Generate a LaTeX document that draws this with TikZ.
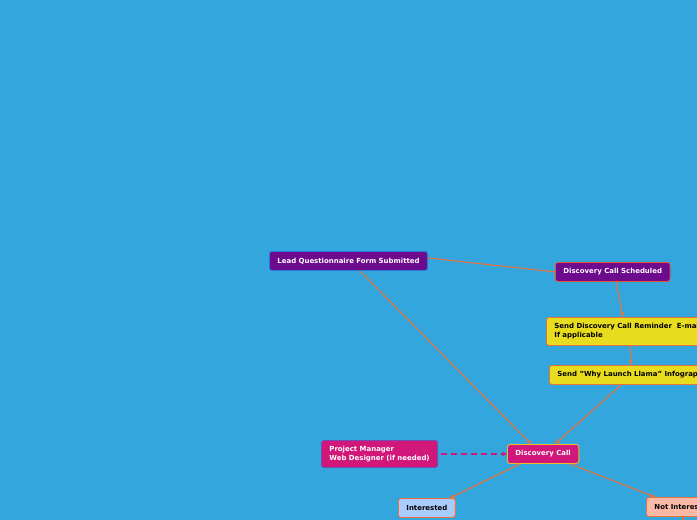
\documentclass[tikz,border=0pt]{standalone}
\usepackage{fontspec}
\setmainfont{DejaVu Sans}
\usetikzlibrary{arrows.meta}
\definecolor{bg}{HTML}{33A6DE}
\definecolor{purp}{HTML}{6E0A8E}
\definecolor{yel}{HTML}{E8DC1E}
\definecolor{mag}{HTML}{D1177A}
\definecolor{lblue}{HTML}{AACCFA}
\definecolor{salm}{HTML}{FBB9A6}
\definecolor{edge}{HTML}{E8743B}
\definecolor{bluebd}{HTML}{2A78D8}
\tikzset{
  box/.style={rounded corners=2.5pt, line width=0.9pt, font=\fontsize{6.95}{8.8}\selectfont\bfseries, inner xsep=8pt, inner ysep=0pt, anchor=north west, align=left},
  conn/.style={draw=edge, line width=1.1pt, -{Stealth[length=5pt,width=4.5pt]}},
  plain/.style={draw=edge, line width=1.1pt},
}
\begin{document}
\begin{tikzpicture}[x=1pt,y=-1pt]
\fill[bg] (0,0) rectangle (697,520);
\useasboundingbox (0,0) rectangle (697,520);
\node[box, draw=bluebd, fill=purp, text=white, minimum height=19pt] (lead) at (269,251) {Lead Questionnaire Form Submitted};
\node[box, draw=edge!70!red, fill=purp, text=white, minimum height=19pt] (sched) at (555,262) {Discovery Call Scheduled};
\node[box, draw=edge, fill=yel, text=black, minimum height=28pt] (remind) at (546,317) {Send Discovery Call Reminder\ \ E-mail\\If applicable};
\node[box, draw=edge, fill=yel, text=black, minimum height=19pt] (info) at (549,365) {Send \symbol{34}Why Launch Llama\symbol{34} Infographic};
\node[box, draw=bluebd!60!mag, fill=mag, text=white, minimum height=27pt] (pm) at (321,440) {Project Manager\\Web Designer (if needed)};
\node[box, draw=yel!70!edge, fill=mag, text=white, minimum height=19pt] (dc) at (507,444) {Discovery Call};
\node[box, draw=edge, fill=lblue, text=black, minimum height=19pt] (int) at (398,498) {Interested};
\node[box, draw=edge, fill=salm, text=black, minimum height=19pt] (nint) at (646,497) {Not Interested};
\coordinate (below) at (683,530);
% connectors
\draw[plain] ([yshift=3pt]lead.east) -- (sched.west);
\draw[conn] ([xshift=91pt]lead.south west) -- ([xshift=24pt]dc.north west);
\draw[conn] ([xshift=61pt]sched.south west) -- ([xshift=77pt]remind.north west);
\draw[conn] ([xshift=84pt]remind.south west) -- ([xshift=82pt]info.north west);
\draw[conn] ([xshift=72pt]info.south west) -- ([xshift=48pt]dc.north west);
\draw[draw=mag, line width=1.1pt, dash pattern=on 6pt off 4pt, -{Stealth[length=5pt,width=4.5pt]}] ([xshift=3pt]pm.east) -- (dc.west);
\draw[conn] ([xshift=13pt]dc.south west) -- ([xshift=52pt]int.north west);
\draw[conn] ([xshift=63pt]dc.south west) -- ([xshift=9pt]nint.north west);
\draw[plain] ([xshift=37pt]nint.south west) -- (below);
\end{tikzpicture}
\end{document}
